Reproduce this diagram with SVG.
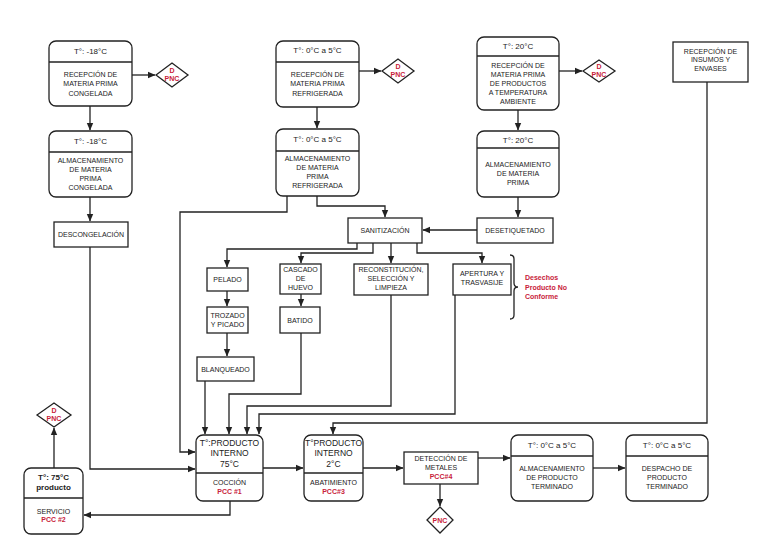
<svg xmlns="http://www.w3.org/2000/svg" width="768" height="543" viewBox="0 0 768 543">
<style>
.b{fill:#fff;stroke:#222;stroke-width:1.3}
.d{fill:none;stroke:#222;stroke-width:1.3}
.t{font-family:"Liberation Sans",Arial,sans-serif;font-size:7px;fill:#222;text-anchor:middle}
.h{font-size:8px}
.g{font-size:8.5px}
.r{fill:#c8213a;font-weight:bold}
.w{font-weight:bold}
.c path,.c polyline{fill:none;stroke:#222;stroke-width:1.3}
</style>
<defs>
<marker id="a" markerWidth="8" markerHeight="8" refX="7" refY="4" orient="auto" markerUnits="userSpaceOnUse">
<path d="M0,0.8 L7.5,4 L0,7.2 Z" fill="#222"/>
</marker>
</defs>
<rect width="768" height="543" fill="#fff"/>

<g class="c">
<polyline points="90,106 90,130" marker-end="url(#a)"/>
<polyline points="132,75 155,75" marker-end="url(#a)"/>
<polyline points="90,197 90,221" marker-end="url(#a)"/>
<polyline points="90,247 90,469 195,469" marker-end="url(#a)"/>
<polyline points="317,107 317,128" marker-end="url(#a)"/>
<polyline points="359,71 381,71" marker-end="url(#a)"/>
<polyline points="287,196 287,212 180,212 180,452 195,452" marker-end="url(#a)"/>
<polyline points="317,196 317,206 385,206 385,217" marker-end="url(#a)"/>
<polyline points="559,71 582,71" marker-end="url(#a)"/>
<polyline points="518,110 518,130" marker-end="url(#a)"/>
<polyline points="518,197 518,217" marker-end="url(#a)"/>
<polyline points="477,230 423,230" marker-end="url(#a)"/>
<polyline points="357,243 357,249 227,249 227,267" marker-end="url(#a)"/>
<polyline points="373,243 373,253 301,253 301,263" marker-end="url(#a)"/>
<polyline points="391,243 391,263" marker-end="url(#a)"/>
<polyline points="417,243 417,253 482,253 482,263" marker-end="url(#a)"/>
<polyline points="227,291 227,306" marker-end="url(#a)"/>
<polyline points="227,333 227,356" marker-end="url(#a)"/>
<polyline points="301,294 301,306" marker-end="url(#a)"/>
<polyline points="205,381 205,434" marker-end="url(#a)"/>
<polyline points="301,333 301,394 229,394 229,434" marker-end="url(#a)"/>
<polyline points="391,295 391,406 247,406 247,434" marker-end="url(#a)"/>
<polyline points="455,295 455,414 259,414 259,434" marker-end="url(#a)"/>
<polyline points="707,82 707,423 333,423 333,434" marker-end="url(#a)"/>
<polyline points="230,501 230,515 84,515" marker-end="url(#a)"/>
<polyline points="54,468 54,428" marker-end="url(#a)"/>
<polyline points="263,468 303,468" marker-end="url(#a)"/>
<polyline points="363,468 403,468" marker-end="url(#a)"/>
<polyline points="440,484 440,506" marker-end="url(#a)"/>
<polyline points="478,458 510,458" marker-end="url(#a)"/>
<polyline points="593,468 625,468" marker-end="url(#a)"/>
<path d="M510,255 Q514,255 514,259 L514,283 Q514,287 518,287 Q514,287 514,291 L514,315 Q514,319 510,319"/>
</g>

<g id="n1">
<rect class="b" x="49" y="41" width="83" height="65" rx="7"/>
<line class="d" x1="49" y1="62" x2="132" y2="62"/>
<text class="t h" x="90.5" y="54">T°: -18°C</text>
<text class="t" x="90.5" y="76.5">RECEPCIÓN DE</text>
<text class="t" x="90.5" y="86">MATERIA PRIMA</text>
<text class="t" x="90.5" y="95.5">CONGELADA</text>
</g>
<g id="d1">
<polygon class="b" points="156,75 172,63 188,75 172,87"/>
<text class="t r" x="172" y="73" font-size="6.5">D</text>
<text class="t r" x="172" y="81" font-size="6.5">PNC</text>
</g>
<g id="n2">
<rect class="b" x="49" y="131" width="83" height="66" rx="7"/>
<line class="d" x1="49" y1="152" x2="132" y2="152"/>
<text class="t h" x="90.5" y="144">T°: -18°C</text>
<text class="t" x="90.5" y="163">ALMACENAMIENTO</text>
<text class="t" x="90.5" y="171.5">DE MATERIA</text>
<text class="t" x="90.5" y="180.5">PRIMA</text>
<text class="t" x="90.5" y="189.5">CONGELADA</text>
</g>
<g id="n3">
<rect class="b" x="54" y="222" width="74" height="25"/>
<text class="t" x="91" y="237">DESCONGELACIÓN</text>
</g>

<g id="n4">
<rect class="b" x="276" y="41" width="83" height="66" rx="7"/>
<line class="d" x1="276" y1="62" x2="359" y2="62"/>
<text class="t h" x="317.5" y="53">T°: 0°C a 5°C</text>
<text class="t" x="317.5" y="76.5">RECEPCIÓN DE</text>
<text class="t" x="317.5" y="86">MATERIA PRIMA</text>
<text class="t" x="317.5" y="95.5">REFRIGERADA</text>
</g>
<g id="d2">
<polygon class="b" points="382,71 398,59 414,71 398,83"/>
<text class="t r" x="398" y="69" font-size="6.5">D</text>
<text class="t r" x="398" y="77" font-size="6.5">PNC</text>
</g>
<g id="n5">
<rect class="b" x="276" y="129" width="83" height="67" rx="7"/>
<line class="d" x1="276" y1="151" x2="359" y2="151"/>
<text class="t h" x="317.5" y="142">T°: 0°C a 5°C</text>
<text class="t" x="317.5" y="160.5">ALMACENAMIENTO</text>
<text class="t" x="317.5" y="169.5">DE MATERIA</text>
<text class="t" x="317.5" y="178.5">PRIMA</text>
<text class="t" x="317.5" y="187.5">REFRIGERADA</text>
</g>

<g id="n6">
<rect class="b" x="477" y="37" width="82" height="73" rx="7"/>
<line class="d" x1="477" y1="56" x2="559" y2="56"/>
<text class="t h" x="518" y="49">T°: 20°C</text>
<text class="t" x="518" y="67.5">RECEPCIÓN DE</text>
<text class="t" x="518" y="76.5">MATERIA PRIMA</text>
<text class="t" x="518" y="85.5">DE PRODUCTOS</text>
<text class="t" x="518" y="94.5">A TEMPERATURA</text>
<text class="t" x="518" y="103.5">AMBIENTE</text>
</g>
<g id="d3">
<polygon class="b" points="583,71 599,60 615,71 599,82"/>
<text class="t r" x="599" y="69" font-size="6.5">D</text>
<text class="t r" x="599" y="77" font-size="6.5">PNC</text>
</g>
<g id="n7">
<rect class="b" x="477" y="131" width="82" height="66" rx="7"/>
<line class="d" x1="477" y1="148" x2="559" y2="148"/>
<text class="t h" x="518" y="142.5">T°: 20°C</text>
<text class="t" x="518" y="167">ALMACENAMIENTO</text>
<text class="t" x="518" y="176">DE MATERIA</text>
<text class="t" x="518" y="185">PRIMA</text>
</g>
<g id="n8">
<rect class="b" x="477" y="218" width="76" height="25"/>
<text class="t" x="515" y="233">DESETIQUETADO</text>
</g>

<g id="n9">
<rect class="b" x="673" y="42" width="75" height="40"/>
<text class="t" x="710.5" y="53.5">RECEPCIÓN DE</text>
<text class="t" x="710.5" y="62">INSUMOS Y</text>
<text class="t" x="710.5" y="70.5">ENVASES</text>
</g>

<g id="n10">
<rect class="b" x="348" y="218" width="74" height="25"/>
<text class="t" x="385" y="233">SANITIZACIÓN</text>
</g>
<g id="n11">
<rect class="b" x="207" y="268" width="41" height="23"/>
<text class="t" x="227.5" y="282">PELADO</text>
</g>
<g id="n12">
<rect class="b" x="207" y="307" width="41" height="26"/>
<text class="t" x="227.5" y="318">TROZADO</text>
<text class="t" x="227.5" y="327">Y PICADO</text>
</g>
<g id="n13">
<rect class="b" x="197" y="357" width="57" height="24"/>
<text class="t" x="225.5" y="371.5">BLANQUEADO</text>
</g>
<g id="n14">
<rect class="b" x="280" y="264" width="41" height="30"/>
<text class="t" x="300.5" y="272">CASCADO</text>
<text class="t" x="300.5" y="281">DE</text>
<text class="t" x="300.5" y="290">HUEVO</text>
</g>
<g id="n15">
<rect class="b" x="280" y="307" width="40" height="26"/>
<text class="t" x="300" y="322.5">BATIDO</text>
</g>
<g id="n16">
<rect class="b" x="354" y="264" width="74" height="31"/>
<text class="t" x="391" y="272">RECONSTITUCIÓN,</text>
<text class="t" x="391" y="281">SELECCIÓN Y</text>
<text class="t" x="391" y="290">LIMPIEZA</text>
</g>
<g id="n17">
<rect class="b" x="453" y="264" width="58" height="31"/>
<text class="t" x="482" y="275.5">APERTURA Y</text>
<text class="t" x="482" y="284.5">TRASVASIJE</text>
</g>
<g id="note">
<text class="t r" x="525" y="280" text-anchor="start" style="text-anchor:start">Desechos</text>
<text class="t r" x="525" y="289.5" style="text-anchor:start">Producto No</text>
<text class="t r" x="525" y="299" style="text-anchor:start">Conforme</text>
</g>

<g id="n18">
<rect class="b" x="196" y="435" width="67" height="66" rx="7"/>
<line class="d" x1="196" y1="473" x2="263" y2="473"/>
<text class="t g" x="229.5" y="446">T°:PRODUCTO</text>
<text class="t g" x="229.5" y="456">INTERNO</text>
<text class="t g" x="229.5" y="467">75°C</text>
<text class="t" x="229.5" y="484.5">COCCIÓN</text>
<text class="t r" x="229.5" y="493.5">PCC #1</text>
</g>
<g id="n19">
<rect class="b" x="24" y="468" width="59" height="66" rx="7"/>
<line class="d" x1="24" y1="498" x2="83" y2="498"/>
<text class="t h w" x="53.5" y="480">T°: 75°C</text>
<text class="t h w" x="53.5" y="490">producto</text>
<text class="t" x="53.5" y="513.5">SERVICIO</text>
<text class="t r" x="53.5" y="522">PCC #2</text>
</g>
<g id="d4">
<polygon class="b" points="37,415 54,403 71,415 54,427"/>
<text class="t r" x="54" y="413" font-size="6.5">D</text>
<text class="t r" x="54" y="421" font-size="6.5">PNC</text>
</g>
<g id="n20">
<rect class="b" x="304" y="435" width="59" height="66" rx="7"/>
<line class="d" x1="304" y1="473" x2="363" y2="473"/>
<text class="t g" x="333.5" y="446">T°PRODUCTO</text>
<text class="t g" x="333.5" y="456">INTERNO</text>
<text class="t g" x="333.5" y="467">2°C</text>
<text class="t" x="333.5" y="484.5">ABATIMIENTO</text>
<text class="t r" x="333.5" y="493.5">PCC#3</text>
</g>
<g id="n21">
<rect class="b" x="404" y="452" width="74" height="32"/>
<text class="t" x="441" y="460.5">DETECCIÓN DE</text>
<text class="t" x="441" y="469.5">METALES</text>
<text class="t r" x="441" y="478.5">PCC#4</text>
</g>
<g id="d5">
<polygon class="b" points="427,520 440,507 453,520 440,533"/>
<text class="t r" x="440" y="522.5" font-size="6.5">PNC</text>
</g>
<g id="n22">
<rect class="b" x="511" y="435" width="82" height="66" rx="7"/>
<line class="d" x1="511" y1="456" x2="593" y2="456"/>
<text class="t h" x="552" y="448">T°: 0°C a 5°C</text>
<text class="t" x="552" y="470.5">ALMACENAMIENTO</text>
<text class="t" x="552" y="479.5">DE PRODUCTO</text>
<text class="t" x="552" y="488.5">TERMINADO</text>
</g>
<g id="n23">
<rect class="b" x="626" y="435" width="82" height="66" rx="7"/>
<line class="d" x1="626" y1="456" x2="708" y2="456"/>
<text class="t h" x="667" y="448">T°: 0°C a 5°C</text>
<text class="t" x="667" y="470.5">DESPACHO DE</text>
<text class="t" x="667" y="479.5">PRODUCTO</text>
<text class="t" x="667" y="488.5">TERMINADO</text>
</g>
</svg>
